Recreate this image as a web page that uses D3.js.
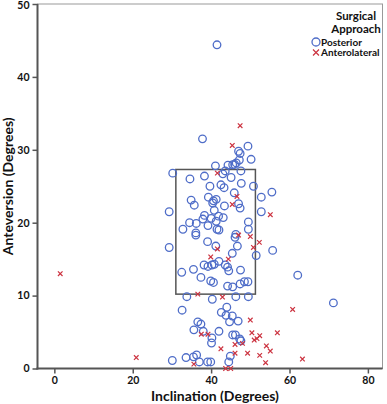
<!DOCTYPE html>
<html><head><meta charset="utf-8">
<script src="https://cdn.jsdelivr.net/npm/d3@7"></script>
<style>body{margin:0;background:#fff}svg{display:block}text{font-family:Lato,"DejaVu Sans",sans-serif}</style>
</head><body><svg id="c" width="387" height="404"></svg>
<script>
const xTicks = [0, 20, 40, 60, 80];
const yTicks = [0, 10, 20, 30, 40, 50];
const safeZoneX = [31, 51.3];
const safeZoneY = [10.2, 27.3];
const posteriorIncl = [41.5,37.8,49.4,47,47.4,47.2,50.2,46.4,46.0,44.3,45.5,41.1,43.6,47.6,30.2,43,38.3,45.1,34.6,47.7,42.5,39.7,43.3,50.8,55.5,45.9,52.8,39.3,41.3,40.6,40.4,34.9,47,35.7,43.4,47.4,40.8,29.3,52.8,38.3,41.9,43.1,40,37.9,41.3,49.5,36.2,34.5,39.2,41.5,42.0,49.5,32.8,36.1,36.1,46.1,46.3,39.1,29.3,41.2,46.7,55.7,51.5,45.4,42,40.8,40.2,38.2,39.2,43.6,44.2,44.5,35.5,32.5,47.5,62.1,37.4,39.9,40.6,44.2,45.5,47.4,48.5,49.4,33.8,40.3,46.3,49.5,71.2,32.6,44,42.6,43.8,45.4,44.7,46.9,36.6,37.4,35.6,38.0,42,40.2,40.1,45.5,46.2,47.3,47.6,44.9,44.5,30.1,33.6,35.5,36.3,37,39.1,39.9];
const posteriorAnte = [44.4,31.5,30.5,29.8,29.5,28.6,28.7,28.2,28.0,27.9,27.95,27.8,27.1,27.1,26.8,26.7,26.4,26.2,26.0,25.4,25.2,25.0,24.8,25.0,24.2,24.1,23.5,23.5,23.2,23.0,22.7,23.1,22.6,22.4,22.3,22.0,21.7,21.5,21.5,21.0,20.9,20.7,20.6,20.5,20.2,20.1,19.9,20.0,19.6,19.1,19.0,19.1,19.1,18.6,18.3,18.0,18.4,17.4,16.6,16.8,16.8,16.2,15.5,15.8,14.7,14.3,14.2,14.2,14.0,14.2,13.9,13.4,13.6,13.2,13.5,12.8,12.5,12.0,11.8,11.3,11.2,11.6,11.9,11.9,9.85,9.5,9.85,9.85,9.0,8.0,8.4,7.7,7.3,7.2,6.4,6.5,6.4,6.1,5.3,5.1,5.1,4.2,3.5,4.6,4.6,4.05,3.8,1.7,0.9,1.1,1.5,1.6,1.85,0.9,0.9,0.9];
const anteroIncl = [1.5,20.9,47.4,45.4,41.6,46.6,45.4,55.1,50,47,52.3,50.8,41.6,39.9,44.4,36.6,42.9,60.8,50,56.9,50.4,52.4,51.7,51,54.1,55.1,52.4,53.9,63.3,37.5,39.2,46.1,48,42.5,46.1,49.3,35.6,43.7,45];
const anteroAnte = [13.0,1.5,33.3,30.6,26.8,23.6,22.5,21.1,18.1,18.3,17.3,16.6,16.4,15.3,15.0,10.2,9.8,8.1,6.65,4.9,4.9,4.5,4.1,3.9,3.1,2.4,1.8,0.8,1.3,4.7,4.7,3.3,3.45,2.7,2.1,2.1,0.6,0,0];

const svg = d3.select("#c");
const L = 37.5, R = 382.5, T = 4, B = 368.5;
const x = d3.scaleLinear().domain([-4.3, 83.6]).range([L, R - 0.5]);
const y = d3.scaleLinear().domain([0, 50]).range([B, T]);
const blue = "#4f6dc8", red = "#cc3340", axisCol = "#555";

// frame
svg.append("rect").attr("x", L).attr("y", T).attr("width", R - L).attr("height", B - T)
  .attr("fill", "none").attr("stroke", "#999").attr("stroke-width", 1);

// safe zone box
svg.append("rect")
  .attr("x", x(safeZoneX[0])).attr("y", y(safeZoneY[1]))
  .attr("width", x(safeZoneX[1]) - x(safeZoneX[0]))
  .attr("height", y(safeZoneY[0]) - y(safeZoneY[1]))
  .attr("fill", "none").attr("stroke", "#555").attr("stroke-width", 1.5);

// axes
const xAxis = svg.append("g").attr("transform", `translate(0,${B})`)
  .call(d3.axisBottom(x).tickValues(xTicks).tickSize(5).tickPadding(3));
const yAxis = svg.append("g").attr("transform", `translate(${L},0)`)
  .call(d3.axisLeft(y).tickValues(yTicks).tickSize(5).tickPadding(3));
[xAxis, yAxis].forEach(g => {
  g.select(".domain").remove();
  g.selectAll(".tick line").attr("stroke", axisCol).attr("stroke-width", 1.5);
  g.selectAll(".tick text").attr("fill", "#111").attr("font-size", 10.5).attr("font-weight", "bold")
    .style("font-family", "Lato,'DejaVu Sans',sans-serif");
});
yAxis.selectAll(".tick text").filter(d => d === 50).attr("dy", "0.45em");
svg.append("line").attr("x1", L).attr("x2", L).attr("y1", T).attr("y2", B + 1)
  .attr("stroke", axisCol).attr("stroke-width", 2);
svg.append("line").attr("x1", L - 1).attr("x2", R).attr("y1", B).attr("y2", B)
  .attr("stroke", axisCol).attr("stroke-width", 2);

// axis titles
svg.append("text").attr("x", (L + R) / 2 + 5).attr("y", 401).attr("text-anchor", "middle")
  .attr("font-size", 14).attr("font-weight", "bold").attr("fill", "#111").text("Inclination (Degrees)");
svg.append("text").attr("transform", `translate(13,${(T + B) / 2}) rotate(-90)`).attr("text-anchor", "middle")
  .attr("font-size", 14).attr("font-weight", "bold").attr("fill", "#111").text("Anteversion (Degrees)");

// points
svg.append("g").selectAll("circle").data(posteriorIncl).join("circle")
  .attr("cx", (d, i) => x(d)).attr("cy", (d, i) => y(posteriorAnte[i])).attr("r", 3.8)
  .attr("fill", "none").attr("stroke", blue).attr("stroke-width", 1.3);
const cs = 2.3;
svg.append("g").selectAll("path").data(anteroIncl).join("path")
  .attr("d", (d, i) => {
    const cx = x(d), cy = y(anteroAnte[i]);
    return `M${cx - cs},${cy - cs}L${cx + cs},${cy + cs}M${cx - cs},${cy + cs}L${cx + cs},${cy - cs}`;
  })
  .attr("stroke", red).attr("stroke-width", 1.2).attr("fill", "none");

// legend
const lg = svg.append("g");
lg.append("text").attr("x", 356).attr("y", 20).attr("text-anchor", "middle").attr("font-size", 11.5)
  .attr("font-weight", "bold").attr("fill", "#111").text("Surgical");
lg.append("text").attr("x", 356).attr("y", 32.5).attr("text-anchor", "middle").attr("font-size", 11.5)
  .attr("font-weight", "bold").attr("fill", "#111").text("Approach");
lg.append("circle").attr("cx", 316).attr("cy", 42).attr("r", 4).attr("fill", "none").attr("stroke", blue).attr("stroke-width", 1.3);
lg.append("text").attr("x", 321).attr("y", 45.5).attr("font-size", 10).attr("font-weight", "bold").attr("fill", "#111")
  .text("Posterior");
lg.append("path").attr("d", "M313,49.5L319,55.5M313,55.5L319,49.5").attr("stroke", red).attr("stroke-width", 1.2);
lg.append("text").attr("x", 321).attr("y", 56).attr("font-size", 10).attr("font-weight", "bold").attr("fill", "#111")
  .text("Anterolateral");
</script></body></html>
